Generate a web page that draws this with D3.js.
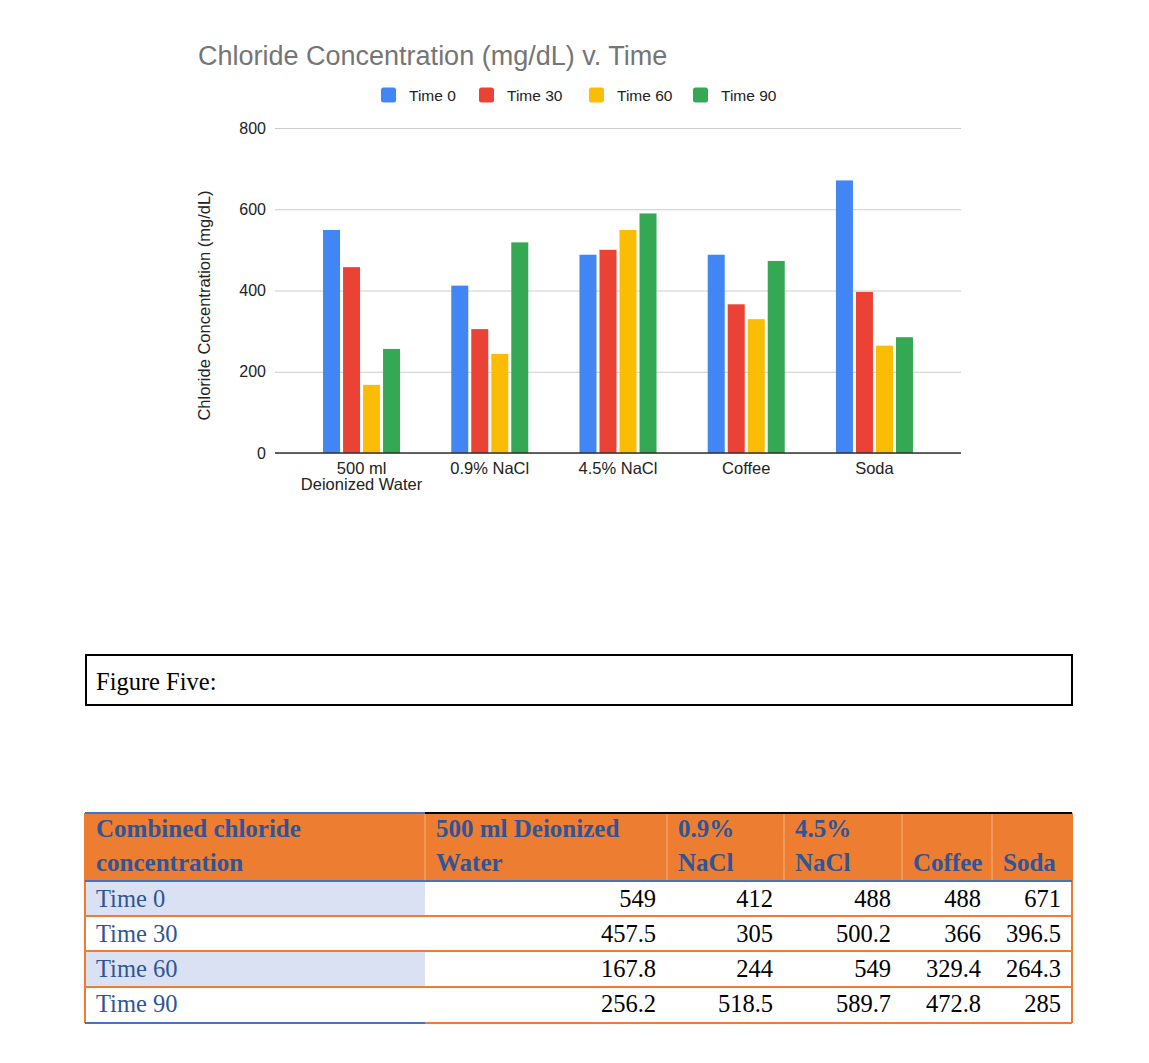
<!DOCTYPE html>
<html>
<head>
<meta charset="utf-8">
<script src="https://cdn.jsdelivr.net/npm/d3@7"></script>
<style>
  html, body { margin: 0; padding: 0; background: #fff; }
  svg { display: block; }
</style>
</head>
<body>
<div id="chart"></div>
<script>
// ---------- data ----------
const categories = ["500 ml Deionized Water", "0.9% NaCl", "4.5% NaCl", "Coffee", "Soda"];
const categoryLabelLines = [["500 ml", "Deionized Water"], ["0.9% NaCl"], ["4.5% NaCl"], ["Coffee"], ["Soda"]];
const seriesNames = ["Time 0", "Time 30", "Time 60", "Time 90"];
const time0  = [549, 412, 488, 488, 671];
const time30 = [457.5, 305, 500.2, 366, 396.5];
const time60 = [167.8, 244, 549, 329.4, 264.3];
const time90 = [256.2, 518.5, 589.7, 472.8, 285];
const seriesValues = [time0, time30, time60, time90];
const yTicks = [0, 200, 400, 600, 800];
const seriesColors = ["#4285F4", "#EA4335", "#FBBC04", "#34A853"];
const chartTitle = "Chloride Concentration (mg/dL) v. Time";
const yAxisTitle = "Chloride Concentration (mg/dL)";
const figureCaption = "Figure Five:";
const tableHeaderLines = [["Combined chloride", "concentration"], ["500 ml Deionized", "Water"], ["0.9%", "NaCl"], ["4.5%", "NaCl"], ["", "Coffee"], ["", "Soda"]];

// ---------- layout ----------
const W = 1149, H = 1063;
const svg = d3.select("#chart").append("svg").attr("width", W).attr("height", H);
const sans = "Arial, 'Liberation Sans', sans-serif";
const serif = "'Times New Roman', 'Liberation Serif', serif";

const plot = { left: 275, right: 961, top: 128, bottom: 453 };

const x0 = d3.scaleBand().domain(categories).range([plot.left, plot.right]).paddingInner(0).paddingOuter(0.175);
const x1 = d3.scaleBand().domain(seriesNames).range([0, x0.bandwidth()]).paddingInner(0.15).paddingOuter(1.28);
const y = d3.scaleLinear().domain([0, 800]).range([plot.bottom, plot.top]);

// title
svg.append("text").attr("x", 198).attr("y", 65)
  .attr("font-family", sans).attr("font-size", 27).attr("fill", "#757575")
  .text(chartTitle);

// legend
const legendX = [381, 479, 589, 693];
const lg = svg.append("g");
seriesNames.forEach((s, i) => {
  const g = lg.append("g").attr("transform", `translate(${legendX[i]},87.5)`);
  g.append("rect").attr("width", 15).attr("height", 15).attr("rx", 2.5).attr("fill", seriesColors[i]);
  g.append("text").attr("x", 28).attr("y", 13).attr("font-family", sans).attr("font-size", 15.5).attr("fill", "#222").text(s);
});

// gridlines
const yAxis = d3.axisLeft(y).tickValues(yTicks).tickSize(-(plot.right - plot.left)).tickPadding(9).tickFormat(d3.format("d"));
const ya = svg.append("g").attr("transform", `translate(${plot.left},0)`).call(yAxis);
ya.select(".domain").remove();
ya.selectAll(".tick line").attr("stroke", "#cccccc").attr("stroke-width", 1);
ya.selectAll(".tick text").attr("font-family", sans).attr("font-size", 16).attr("fill", "#222");

// bars
const groups = svg.append("g").selectAll("g").data(categories).join("g")
  .attr("transform", d => `translate(${x0(d)},0)`);
groups.selectAll("rect").data((c, ci) => seriesNames.map((s, si) => ({ s, si, v: seriesValues[si][ci] })))
  .join("rect")
  .attr("x", d => x1(d.s)).attr("width", x1.bandwidth())
  .attr("y", d => y(d.v)).attr("height", d => y(0) - y(d.v))
  .attr("fill", d => seriesColors[d.si]);

// baseline
svg.append("line").attr("x1", plot.left).attr("x2", plot.right).attr("y1", y(0)).attr("y2", y(0))
  .attr("stroke", "#333").attr("stroke-width", 1.5);

// x labels
const xl = svg.append("g");
categories.forEach((c, i) => {
  const t = xl.append("text").attr("x", x0(c) + x0.bandwidth() / 2).attr("y", 474)
    .attr("text-anchor", "middle").attr("font-family", sans).attr("font-size", 16.5).attr("fill", "#222");
  categoryLabelLines[i].forEach((line, li) => {
    t.append("tspan").attr("x", x0(c) + x0.bandwidth() / 2).attr("dy", li === 0 ? 0 : 16).text(line);
  });
});

// y axis title
svg.append("text").attr("transform", `translate(210,${(plot.top + plot.bottom) / 2 + 15}) rotate(-90)`)
  .attr("text-anchor", "middle").attr("font-family", sans).attr("font-size", 16.5).attr("fill", "#222")
  .text(yAxisTitle);

// ---------- figure caption box ----------
svg.append("rect").attr("x", 86).attr("y", 655).attr("width", 986).attr("height", 50)
  .attr("fill", "none").attr("stroke", "#000").attr("stroke-width", 2);
svg.append("text").attr("x", 96).attr("y", 690).attr("font-family", serif).attr("font-size", 24.5).attr("fill", "#000")
  .text(figureCaption);

// ---------- table ----------
const colEdges = [85, 425, 667, 784, 902, 992, 1072];
const rowEdges = [813, 881, 916, 951, 987, 1023];
const tbl = svg.append("g");
const headerBlue = "#2F5597";
const orange = "#ED7D31";

// header background
tbl.append("rect").attr("x", colEdges[0]).attr("y", rowEdges[0]).attr("width", colEdges[6] - colEdges[0]).attr("height", rowEdges[1] - rowEdges[0]).attr("fill", orange);
// light-blue first column shading rows 0 and 2
[0, 2].forEach(r => {
  tbl.append("rect").attr("x", colEdges[0]).attr("y", rowEdges[r + 1]).attr("width", colEdges[1] - colEdges[0]).attr("height", rowEdges[r + 2] - rowEdges[r + 1]).attr("fill", "#D9E1F2");
});
// header column separators
colEdges.slice(1, 6).forEach(xc => {
  tbl.append("line").attr("x1", xc).attr("x2", xc).attr("y1", rowEdges[0]).attr("y2", rowEdges[1]).attr("stroke", "#F4B183").attr("stroke-width", 1);
});
// row separators
rowEdges.slice(2, 5).forEach(yr => {
  tbl.append("line").attr("x1", colEdges[0]).attr("x2", colEdges[6]).attr("y1", yr).attr("y2", yr).attr("stroke", orange).attr("stroke-width", 2);
});
// outer borders
tbl.append("line").attr("x1", colEdges[0]).attr("x2", colEdges[0]).attr("y1", rowEdges[0]).attr("y2", rowEdges[5]).attr("stroke", orange).attr("stroke-width", 2);
tbl.append("line").attr("x1", colEdges[6]).attr("x2", colEdges[6]).attr("y1", rowEdges[0]).attr("y2", rowEdges[5]).attr("stroke", orange).attr("stroke-width", 2);
tbl.append("line").attr("x1", colEdges[0]).attr("x2", colEdges[1]).attr("y1", rowEdges[0]).attr("y2", rowEdges[0]).attr("stroke", "#4472C4").attr("stroke-width", 2);
tbl.append("line").attr("x1", colEdges[1]).attr("x2", colEdges[6]).attr("y1", rowEdges[0]).attr("y2", rowEdges[0]).attr("stroke", "#000").attr("stroke-width", 2);
tbl.append("line").attr("x1", colEdges[0]).attr("x2", colEdges[6]).attr("y1", rowEdges[1]).attr("y2", rowEdges[1]).attr("stroke", "#4472C4").attr("stroke-width", 2);
tbl.append("line").attr("x1", colEdges[0]).attr("x2", colEdges[1]).attr("y1", rowEdges[5]).attr("y2", rowEdges[5]).attr("stroke", "#4472C4").attr("stroke-width", 2);
tbl.append("line").attr("x1", colEdges[1]).attr("x2", colEdges[6]).attr("y1", rowEdges[5]).attr("y2", rowEdges[5]).attr("stroke", orange).attr("stroke-width", 2);

// header text
tableHeaderLines.forEach((lines, ci) => {
  lines.forEach((line, li) => {
    if (!line) return;
    tbl.append("text").attr("x", colEdges[ci] + 11).attr("y", li === 0 ? 837 : 871)
      .attr("font-family", serif).attr("font-weight", "bold").attr("font-size", 25).attr("fill", headerBlue)
      .text(line);
  });
});
// body
const rowBaselines = [907, 942, 977, 1012];
seriesNames.forEach((s, ri) => {
  tbl.append("text").attr("x", colEdges[0] + 11).attr("y", rowBaselines[ri])
    .attr("font-family", serif).attr("font-size", 24.5).attr("fill", headerBlue).text(s);
  categories.forEach((c, ci) => {
    tbl.append("text").attr("x", colEdges[ci + 2] - 11).attr("y", rowBaselines[ri]).attr("text-anchor", "end")
      .attr("font-family", serif).attr("font-size", 24.5).attr("fill", "#000").text(String(seriesValues[ri][ci]));
  });
});
</script>
</body>
</html>
